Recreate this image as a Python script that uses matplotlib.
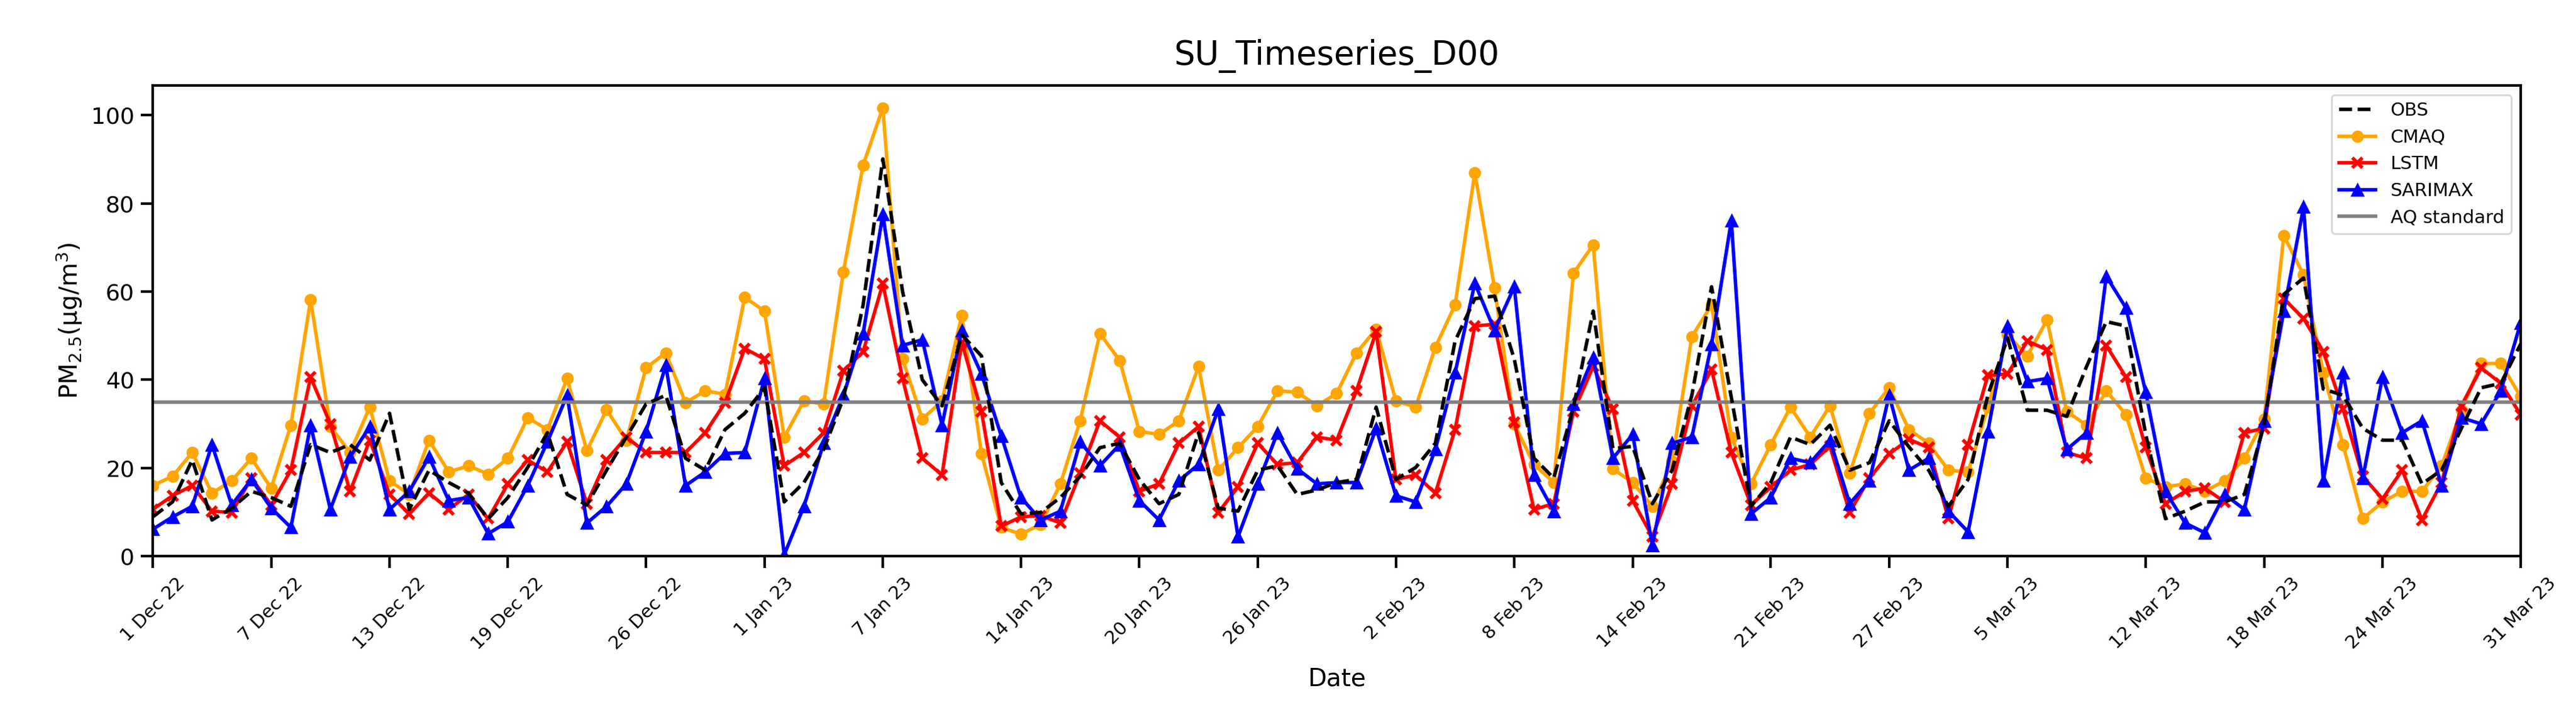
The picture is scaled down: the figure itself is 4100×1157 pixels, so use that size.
import numpy as np
import pandas as pd
import matplotlib
matplotlib.use("Agg")
import matplotlib.pyplot as plt

dates = pd.date_range("2022-12-01", "2023-03-31", freq="D")

obs = [8.9, 12.3, 21.8, 8.2, 10.9, 14.7, 13.3, 11.3, 25.3, 23.5,
       25.3, 21.8, 32.4, 10.6, 19.5, 16.7, 14.3, 8.5, 13.3, 20.1,
       28.0, 14.0, 11.6, 19.5, 27.0, 34.5, 36.5, 22.2, 19.5, 28.7,
       32.4, 38.2, 12.3, 16.7, 24.2, 35.8, 57.0, 90.1, 60.0, 40.0,
       34.1, 50.2, 45.4, 16.7, 9.6, 9.9, 13.3, 18.1, 24.6, 25.6,
       17.4, 11.9, 14.0, 28.0, 10.9, 10.2, 19.5, 20.5, 14.0, 15.0,
       16.7, 17.4, 33.8, 17.4, 20.1, 25.6, 48.8, 58.4, 59.0, 44.7,
       22.2, 17.7, 33.8, 55.6, 24.4, 24.9, 11.9, 19.5, 36.5, 61.1,
       36.0, 11.3, 16.7, 27.0, 25.3, 29.7, 19.5, 21.2, 30.7, 24.8,
       19.5, 11.3, 17.4, 36.5, 49.5, 33.1, 33.1, 31.7, 43.0, 53.2,
       52.2, 27.6, 8.5, 10.2, 12.3, 12.3, 14.0, 29.7, 59.4, 63.1,
       37.9, 36.5, 29.0, 26.3, 26.3, 16.4, 19.5, 29.0, 38.2, 39.2,
       48.1]

cmaq = [16.0, 18.1, 23.5, 14.3, 17.1, 22.2, 15.4, 29.7, 58.2, 29.4,
        23.5, 33.8, 17.1, 14.0, 26.3, 19.1, 20.5, 18.6, 22.2, 31.4,
        28.7, 40.3, 23.9, 33.2, 26.3, 42.7, 46.1, 34.8, 37.5, 36.7,
        58.7, 55.6, 27.0, 35.2, 34.5, 64.5, 88.7, 101.7, 44.7, 31.1,
        35.2, 54.6, 23.2, 6.5, 5.0, 7.2, 16.4, 30.7, 50.5, 44.4,
        28.3, 27.6, 30.7, 43.0, 19.5, 24.6, 29.4, 37.5, 37.2, 34.1,
        36.9, 46.1, 51.5, 35.2, 33.8, 47.4, 57.0, 87.0, 60.8, 30.0,
        20.8, 16.7, 64.2, 70.6, 19.8, 16.7, 11.3, 21.5, 49.8, 57.0,
        27.0, 16.4, 25.3, 33.8, 27.0, 34.1, 18.8, 32.4, 38.2, 28.7,
        25.6, 19.5, 19.1, 33.8, 50.2, 45.4, 53.6, 32.8, 29.7, 37.5,
        32.1, 17.7, 15.7, 16.4, 14.7, 17.1, 22.2, 31.1, 72.7, 63.8,
        41.6, 25.3, 8.5, 12.3, 14.7, 14.7, 20.5, 33.1, 43.7, 43.7,
        36.2]

lstm = [10.6, 13.7, 16.0, 10.2, 9.9, 17.7, 11.6, 19.5, 40.6, 30.0,
        14.7, 26.3, 14.0, 9.6, 14.3, 10.6, 14.0, 8.5, 16.4, 21.8,
        19.1, 25.9, 11.9, 21.8, 27.0, 23.5, 23.5, 23.5, 28.0, 34.8,
        47.1, 44.7, 20.5, 23.5, 28.0, 42.0, 46.4, 61.8, 40.3, 22.2,
        18.4, 48.5, 32.8, 6.8, 8.9, 9.2, 7.5, 18.8, 30.7, 27.0,
        14.7, 16.4, 25.6, 29.4, 9.9, 15.7, 25.6, 20.8, 21.2, 27.0,
        26.3, 37.5, 50.9, 17.4, 18.4, 14.3, 28.7, 52.2, 52.6, 30.4,
        10.6, 11.9, 32.8, 43.0, 33.4, 12.6, 4.4, 16.4, 34.1, 42.3,
        23.5, 11.6, 15.7, 19.5, 20.8, 24.9, 9.9, 17.7, 23.2, 26.5,
        24.6, 8.5, 25.3, 41.0, 41.3, 48.8, 46.8, 23.5, 22.2, 47.8,
        40.6, 24.6, 11.9, 14.7, 15.4, 12.3, 28.0, 29.0, 58.4, 53.9,
        46.4, 33.4, 18.1, 13.0, 19.5, 8.2, 16.7, 34.1, 42.7, 39.2,
        32.1]

sarimax = [6.1, 8.9, 11.3, 25.3, 11.6, 17.4, 10.9, 6.5, 29.7, 10.6,
           22.5, 29.4, 10.6, 14.7, 22.5, 12.6, 13.3, 5.1, 7.8, 16.0,
           25.9, 36.5, 7.5, 11.3, 16.4, 28.3, 43.3, 16.0, 19.1, 23.3,
           23.5, 40.3, 0.3, 11.3, 25.6, 36.5, 50.5, 77.5, 47.8, 49.1,
           29.7, 51.2, 41.3, 27.3, 13.3, 8.2, 10.2, 25.9, 20.5, 25.3,
           12.6, 8.2, 17.1, 20.8, 33.4, 4.4, 16.4, 28.0, 19.8, 16.4,
           16.7, 16.7, 29.0, 13.7, 12.3, 24.2, 41.6, 61.9, 51.2, 61.1,
           18.4, 10.2, 34.5, 45.1, 22.2, 27.6, 2.4, 25.6, 27.0, 48.1,
           76.1, 9.6, 13.3, 22.2, 21.2, 26.3, 11.9, 17.1, 36.5, 19.5,
           22.2, 10.2, 5.5, 28.3, 52.2, 39.6, 40.3, 24.2, 28.0, 63.5,
           56.3, 37.2, 14.7, 7.5, 5.3, 14.0, 10.6, 30.7, 55.6, 79.2,
           17.1, 41.6, 17.7, 40.6, 28.0, 30.7, 16.0, 31.4, 30.0, 37.5,
           52.9]

aq_standard = 35

tick_dates = ["2022-12-01", "2022-12-07", "2022-12-13", "2022-12-19", "2022-12-26",
              "2023-01-01", "2023-01-07", "2023-01-14", "2023-01-20", "2023-01-26",
              "2023-02-02", "2023-02-08", "2023-02-14", "2023-02-21", "2023-02-27",
              "2023-03-05", "2023-03-12", "2023-03-18", "2023-03-24", "2023-03-31"]
tick_labels = ["1 Dec 22", "7 Dec 22", "13 Dec 22", "19 Dec 22", "26 Dec 22",
               "1 Jan 23", "7 Jan 23", "14 Jan 23", "20 Jan 23", "26 Jan 23",
               "2 Feb 23", "8 Feb 23", "14 Feb 23", "21 Feb 23", "27 Feb 23",
               "5 Mar 23", "12 Mar 23", "18 Mar 23", "24 Mar 23", "31 Mar 23"]

plt.rcParams['font.family'] = ['DejaVu Sans']

fig = plt.figure(figsize=(20.5, 5.785), dpi=200)
ax = fig.add_axes([0.0593, 0.235, 0.9192, 0.6475])

ax.plot(dates, obs, color='black', linestyle='--', linewidth=2.0, label='OBS', zorder=5)
ax.plot(dates, cmaq, color='orange', marker='o', markersize=6, linewidth=2.0, label='CMAQ')
ax.plot(dates, lstm, color='red', marker='x', markersize=6, markeredgewidth=2, linewidth=2.0, label='LSTM')
ax.plot(dates, sarimax, color='blue', marker='^', markersize=6.5, linewidth=2.0, label='SARIMAX')
ax.axhline(aq_standard, color='grey', linewidth=2.0, label='AQ standard')

ax.set_xlim(dates[0], dates[-1])
ax.set_ylim(bottom=0)
ax.set_yticks([0, 20, 40, 60, 80, 100])
ax.set_xticks(pd.to_datetime(tick_dates))
ax.set_xticklabels(tick_labels, rotation=45, fontsize=10.5)
ax.tick_params(axis='y', labelsize=13, width=1.5, length=7)
ax.tick_params(axis='x', width=1.5, length=7)
for s in ax.spines.values():
    s.set_linewidth(1.5)

ax.set_title('SU_Timeseries_D00', fontsize=19, pad=12)
ax.set_xlabel('Date', fontsize=14, labelpad=8)
ax.set_ylabel('PM$_{2.5}$(μg/m$^3$)', fontsize=14)
ax.legend(loc='upper right', fontsize=10.5, borderaxespad=0.5)

fig.savefig('out.png', dpi=200)
